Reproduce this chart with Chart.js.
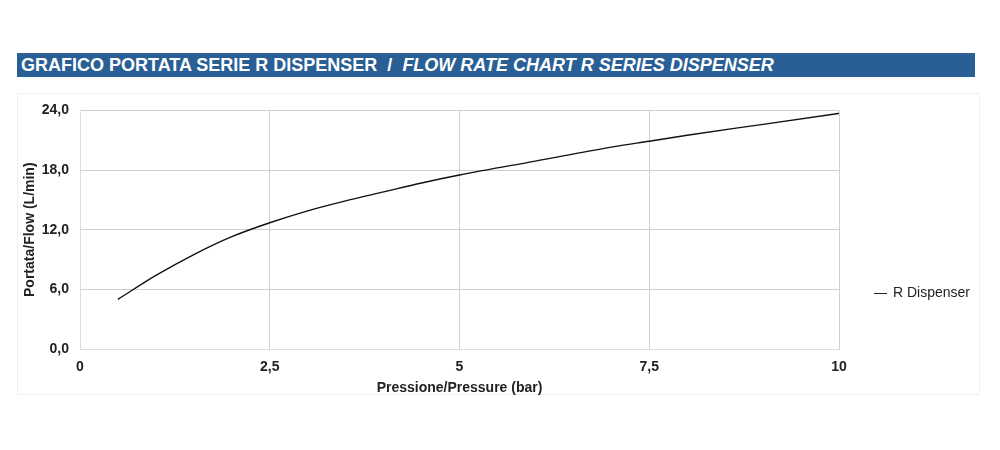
<!DOCTYPE html>
<html>
<head>
<meta charset="utf-8">
<script src="https://cdn.jsdelivr.net/npm/chart.js@4"></script>
<style>
  body { margin: 0; background: #fff; width: 1000px; height: 450px; position: relative; font-family: "Liberation Sans", Arial, sans-serif; }
  .title-bar { position: absolute; left: 17px; top: 53px; width: 958px; height: 24px; background: #2a5f96; color: #fff; font-weight: bold; font-size: 18px; line-height: 24px; padding-left: 4px; box-sizing: border-box; white-space: nowrap; }
  .chart-box { position: absolute; left: 17px; top: 93px; width: 963px; height: 302px; border: 1px solid #f0f0f0; box-sizing: border-box; }
  .chart-box canvas { position: absolute; left: 0; top: -3px; }
  .legend { position: absolute; left: 874px; top: 284px; font-size: 14px; color: #222; white-space: nowrap; }
  .legend span { display: inline-block; width: 13px; height: 0; border-top: 1.5px solid #222; vertical-align: middle; margin-right: 6px; }
</style>
</head>
<body>
<div class="title-bar">GRAFICO PORTATA SERIE R DISPENSER&nbsp; /&nbsp; <i>FLOW RATE CHART R SERIES DISPENSER</i></div>
<div class="chart-box"><canvas id="flowChart" width="961" height="309"></canvas></div>
<div class="legend"><span></span>R Dispenser</div>
<script>
// pressione (bar)
const pressure = [0.5, 1, 1.5, 2, 2.5, 3, 3.5, 4, 4.5, 5, 6, 7, 7.5, 8, 9, 10]
// portata (L/min)
const flow = [5.0, 7.4, 9.5, 11.3, 12.7, 13.9, 14.9, 15.8, 16.7, 17.5, 18.9, 20.3, 20.9, 21.5, 22.6, 23.7]
const seriesName = 'R Dispenser'

const points = pressure.map((p, i) => ({ x: p, y: flow[i] }))

const commaNum = (v, d) => v.toFixed(d).replace('.', ',')

const ctx = document.getElementById('flowChart').getContext('2d')
new Chart(ctx, {
    type: 'line',
    data: {
        datasets: [{
            label: seriesName,
            data: points,
            borderColor: '#111',
            borderWidth: 1.4,
            pointRadius: 0,
            cubicInterpolationMode: 'monotone',
            fill: false
        }]
    },
    options: {
        responsive: false,
        animation: false,
        layout: { padding: { left: 0, right: 140, top: 6, bottom: 0 } },
        plugins: { legend: { display: false }, tooltip: { enabled: false } },
        scales: {
            x: {
                type: 'linear', min: 0, max: 10,
                ticks: {
                    stepSize: 2.5,
                    color: '#222',
                    padding: 10,
                    font: { family: 'Liberation Sans', size: 14, weight: 'bold' },
                    callback: v => Number.isInteger(v) ? String(v) : commaNum(v, 1)
                },
                grid: { color: '#cfcfcf', drawTicks: false },
                border: { color: '#dddddd' },
                title: { display: true, text: 'Pressione/Pressure (bar)', color: '#222', font: { family: 'Liberation Sans', size: 14, weight: 'bold' }, padding: { top: 8, bottom: 3 } },
                afterFit: s => { s.height = 51 }
            },
            y: {
                min: 0, max: 24,
                ticks: {
                    stepSize: 6,
                    color: '#222',
                    padding: 11,
                    font: { family: 'Liberation Sans', size: 14, weight: 'bold' },
                    callback: v => commaNum(v, 1)
                },
                grid: { color: '#cfcfcf', drawTicks: false },
                border: { color: '#dddddd' },
                title: { display: true, text: 'Portata/Flow (L/min)', color: '#222', font: { family: 'Liberation Sans', size: 14, weight: 'bold' } },
                afterFit: s => { s.width = 62 }
            }
        }
    }
})
</script>
</body>
</html>
